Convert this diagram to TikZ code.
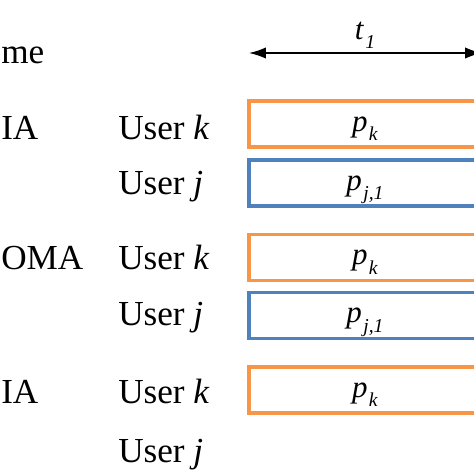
\documentclass[tikz,border=0pt]{standalone}
\usepackage{fontspec}
\setmainfont{Liberation Serif}
\usetikzlibrary{arrows.meta}
\definecolor{userK}{RGB}{247,150,70}
\definecolor{userJ}{RGB}{79,129,189}
\newcommand{\lowsub}[2]{\textit{#1}\kern1pt\raisebox{-7pt}{\fontsize{14}{15}\selectfont\textit{#2}}}

\begin{document}
\begin{tikzpicture}[x=0.025cm,y=-0.025cm,
    rowlabel/.style={anchor=base west,inner sep=0pt,font=\fontsize{25}{28}\selectfont},
    schemelabel/.style={anchor=base west,inner sep=0pt,font=\fontsize{25}{28}\selectfont},
    powerbox/.style={draw,line width=2.2pt,minimum width=5.8cm,minimum height=1.15cm,
      text height=14pt,text depth=4pt,inner sep=0pt,font=\fontsize{22}{25}\selectfont},
    kbox/.style={powerbox,draw=userK},
    jbox/.style={powerbox,draw=userJ}]

  \useasboundingbox (0,0) rectangle (474,474);
  \clip (0,0) rectangle (474,474);

  % duree du creneau
  \coordinate (tl) at (249,53);
  \coordinate (tr) at (482,53);
  \draw[{Latex[length=12pt,width=8pt]}-{Latex[length=12pt,width=8pt]},line width=1.1pt]
    (tl) -- (tr);
  \node[anchor=base,inner sep=0pt,font=\fontsize{22}{25}\selectfont] (t1) at (365,39)
    {\lowsub{t}{1}};
  \node[schemelabel] (time) at (1,63) {me};

  % premier schema
  \node[schemelabel] (sA) at (1,139) {IA};
  \node[rowlabel] (uk1) at (118,139) {User \textit{k}};
  \node[rowlabel] (uj1) at (118,194) {User \textit{j}};
  \node[kbox] (pk1) at (365,124) {\lowsub{p}{k}};
  \node[jbox] (pj1) at (365,183) {\lowsub{p}{j,1}};

  % deuxieme schema
  \node[schemelabel] (sB) at (1,269) {OMA};
  \node[rowlabel] (uk2) at (118,269) {User \textit{k}};
  \node[rowlabel] (uj2) at (118,325) {User \textit{j}};
  \node[kbox] (pk2) at (365,257.5) {\lowsub{p}{k}};
  \node[jbox] (pj2) at (365,315.5) {\lowsub{p}{j,1}};

  % troisieme schema
  \node[schemelabel] (sC) at (1,403) {IA};
  \node[rowlabel] (uk3) at (118,403) {User \textit{k}};
  \node[rowlabel] (uj3) at (118,462) {User \textit{j}};
  \node[kbox] (pk3) at (365,390) {\lowsub{p}{k}};
\end{tikzpicture}
\end{document}
